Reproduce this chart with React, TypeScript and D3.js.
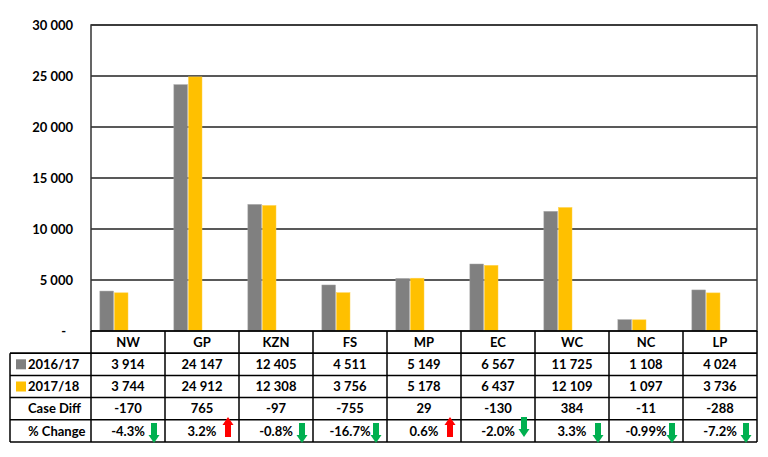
import { useEffect, useRef } from 'react';
import * as d3 from 'd3';

const provinces = ['NW', 'GP', 'KZN', 'FS', 'MP', 'EC', 'WC', 'NC', 'LP'];
const cases2016 = [3914, 24147, 12405, 4511, 5149, 6567, 11725, 1108, 4024];
const cases2017 = [3744, 24912, 12308, 3756, 5178, 6437, 12109, 1097, 3736];
const caseDiff = ['-170', '765', '-97', '-755', '29', '-130', '384', '-11', '-288'];
const pctChange = ['-4.3%', '3.2%', '-0.8%', '-16.7%', '0.6%', '-2.0%', '3.3%', '-0.99%', '-7.2%'];
// arrow as drawn in the source (WC shows a down arrow even though it rose)
const arrowDir = ['down', 'up', 'down', 'down', 'up', 'down', 'down', 'down', 'down'];
const yTicks = [0, 5000, 10000, 15000, 20000, 25000, 30000];

const GREY = '#808080';
const GOLD = '#FFC000';
const FONT = 'Lato, "Open Sans", sans-serif';

export default function App() {
  const ref = useRef<SVGSVGElement>(null);

  useEffect(() => {
    if (!ref.current) return;
    const svg = d3.select(ref.current);
    svg.selectAll('*').remove();

    const left = 91, right = 757, top = 25, bottom = 331;
    const tableBottom = 442, labelLeft = 10;

    const x = d3.scaleBand<string>().domain(provinces).range([left, right]);
    const y = d3.scaleLinear().domain([0, 30000]).range([bottom, top]);
    const rows = d3.scaleBand<string>()
      .domain(['head', 'a', 'b', 'diff', 'pct'])
      .range([bottom, tableBottom]);

    // gridlines
    svg.append('g')
      .selectAll('line')
      .data(yTicks.filter(t => t > 0))
      .join('line')
      .attr('x1', left).attr('x2', right)
      .attr('y1', d => y(d)).attr('y2', d => y(d))
      .attr('stroke', '#222').attr('stroke-width', 1.5);

    // y labels
    svg.append('g')
      .selectAll('text')
      .data(yTicks)
      .join('text')
      .attr('x', d => (d === 0 ? 66 : 73))
      .attr('y', d => y(d))
      .attr('dy', '0.35em')
      .attr('text-anchor', 'end')
      .attr('font-family', FONT)
      .attr('font-weight', 'bold')
      .attr('font-size', 13)
      .text(d => (d === 0 ? '-' : d3.format(',')(d).replace(',', ' ')));

    // bars
    const bw = x.bandwidth() * 0.19;
    const g = svg.append('g');
    provinces.forEach((p, i) => {
      const c = (x(p) ?? 0) + x.bandwidth() / 2;
      g.append('rect')
        .attr('x', c - 2 * bw).attr('width', bw - 0.5)
        .attr('y', y(cases2016[i])).attr('height', bottom - y(cases2016[i]))
        .attr('fill', GREY).attr('stroke', '#a0a0a0').attr('stroke-width', 0.5);
      g.append('rect')
        .attr('x', c - bw + 0.5).attr('width', bw - 0.5)
        .attr('y', y(cases2017[i])).attr('height', bottom - y(cases2017[i]))
        .attr('fill', GOLD).attr('stroke', '#ffd24d').attr('stroke-width', 0.5);
    });

    // plot border
    svg.append('rect')
      .attr('x', left).attr('y', top)
      .attr('width', right - left).attr('height', bottom - top)
      .attr('fill', 'none').attr('stroke', '#333').attr('stroke-width', 1.5);

    // table lines
    const t = svg.append('g').attr('stroke', '#000').attr('stroke-width', 1.5);
    const rowKeys = rows.domain();
    rowKeys.forEach((k, i) => {
      const yy = (rows(k) ?? 0) + rows.bandwidth();
      t.append('line').attr('x1', labelLeft).attr('x2', right).attr('y1', yy).attr('y2', yy);
      if (i === 0) {
        t.append('line').attr('x1', labelLeft).attr('x2', right)
          .attr('y1', yy).attr('y2', yy);
      }
    });
    t.append('line').attr('x1', left).attr('x2', right).attr('y1', bottom).attr('y2', bottom);
    [...provinces.map(p => x(p) ?? 0), right].forEach(xx => {
      t.append('line').attr('x1', xx).attr('x2', xx).attr('y1', bottom).attr('y2', tableBottom);
    });
    const firstRow = (rows('a') ?? 0);
    t.append('line').attr('x1', labelLeft).attr('x2', labelLeft).attr('y1', firstRow).attr('y2', tableBottom);

    const txt = svg.append('g')
      .attr('font-family', FONT).attr('font-weight', 'bold').attr('font-size', 13);
    const cellText = (k: string, vals: string[]) => {
      provinces.forEach((p, i) => {
        txt.append('text')
          .attr('x', (x(p) ?? 0) + x.bandwidth() / 2)
          .attr('y', (rows(k) ?? 0) + rows.bandwidth() / 2)
          .attr('dy', '0.36em')
          .attr('text-anchor', 'middle')
          .text(vals[i]);
      });
    };
    const fmt = (v: number) => d3.format(',')(v).replace(',', ' ');
    cellText('head', provinces);
    cellText('a', cases2016.map(fmt));
    cellText('b', cases2017.map(fmt));
    cellText('diff', caseDiff);
    cellText('pct', pctChange);

    // row labels
    const labels: [string, string, string | null][] = [
      ['a', '2016/17', GREY], ['b', '2017/18', GOLD], ['diff', 'Case Diff', null], ['pct', '% Change', null],
    ];
    labels.forEach(([k, label, color]) => {
      const cy = (rows(k) ?? 0) + rows.bandwidth() / 2;
      if (color) {
        svg.append('rect').attr('x', 16).attr('y', cy - 5).attr('width', 10).attr('height', 10).attr('fill', color);
      }
      txt.append('text').attr('x', 28).attr('y', cy).attr('dy', '0.36em').text(label);
    });

    // arrows
    const arrowG = svg.append('g');
    provinces.forEach((p, i) => {
      const cx = (x(p) ?? 0) + x.bandwidth() - 11;
      const up = arrowDir[i] === 'up';
      const y0 = up ? 417 : (i === 5 ? 417 : 423);
      const h = 20, head = 8, sw = 3, hw = 5.5;
      const path = up
        ? `M${cx},${y0} L${cx + hw},${y0 + head} L${cx + sw},${y0 + head} L${cx + sw},${y0 + h} L${cx - sw},${y0 + h} L${cx - sw},${y0 + head} L${cx - hw},${y0 + head} Z`
        : `M${cx - sw},${y0} L${cx + sw},${y0} L${cx + sw},${y0 + h - head} L${cx + hw},${y0 + h - head} L${cx},${y0 + h} L${cx - hw},${y0 + h - head} L${cx - sw},${y0 + h - head} Z`;
      arrowG.append('path').attr('d', path).attr('fill', up ? '#FF0000' : '#00B050');
    });
  }, []);

  return (
    <svg ref={ref} width={768} height={457}
      style={{ position: 'absolute', left: 0, top: 0, background: '#fff' }} />
  );
}
